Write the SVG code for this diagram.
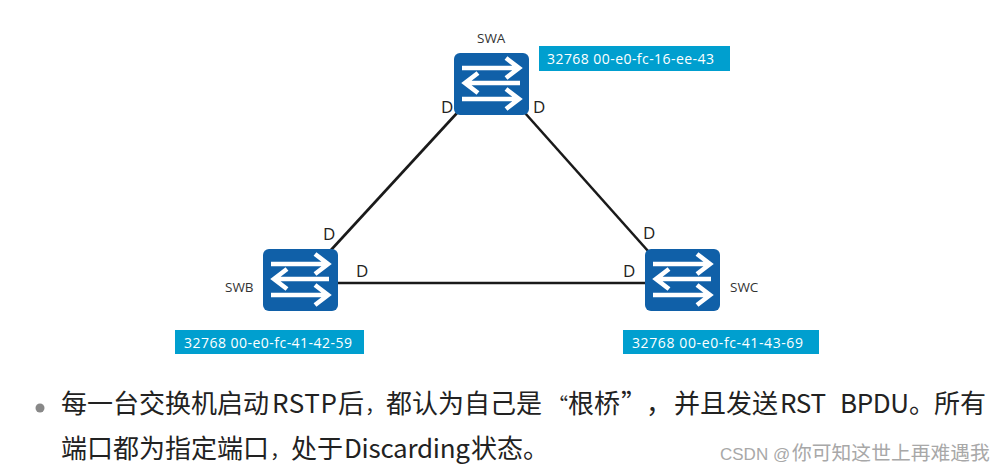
<svg xmlns="http://www.w3.org/2000/svg" width="1006" height="472" viewBox="0 0 1006 472">
<style>
.lbl{font-family:"Open Sans","Liberation Sans",sans-serif;font-size:13.5px;fill:#333}
.d{font-family:"Open Sans","Liberation Sans",sans-serif;font-size:17px;fill:#222}
.tag{fill:#009fcf}
.tagt{font-family:"Open Sans","Liberation Sans",sans-serif;font-size:14px;fill:#fff}
.body{font-family:"Noto Sans CJK SC","Noto Sans",sans-serif;font-size:26px;fill:#222}
.sm{font-size:20px}
.ar{fill:none;stroke:#fff;stroke-width:4.6}
.ln{stroke:#1a1a1a;stroke-width:2.6;fill:none}
</style>
<defs>
<g id="sw">
<rect width="75" height="62" rx="6" fill="#1060a8"/>
<path class="ar" d="M8 15H64M52 5L65 15L52 25"/>
<path class="ar" d="M66 30H12M24 20L11 30L24 40"/>
<path class="ar" d="M8 46H64M52 36L65 46L52 56"/>
</g>
</defs>
<rect width="1006" height="472" fill="#fff"/>
<g id="connectors">
<line class="ln" x1="457" y1="113" x2="331" y2="250"/>
<line class="ln" x1="525" y1="113" x2="648" y2="251"/>
<line class="ln" x1="337" y1="283" x2="645" y2="283"/>
</g>
<g id="SWA"><use href="#sw" x="454" y="53"/><text class="lbl" x="477" y="43">SWA</text>
<rect class="tag" x="539" y="46" width="191" height="25"/><text class="tagt" x="547" y="64" textLength="167">32768 00-e0-fc-16-ee-43</text>
<text class="d" x="441" y="113">D</text><text class="d" x="533" y="113">D</text></g>
<g id="SWB"><use href="#sw" x="263" y="249"/><text class="lbl" x="225" y="292">SWB</text>
<rect class="tag" x="175" y="330" width="189" height="24"/><text class="tagt" x="184" y="348" textLength="168">32768 00-e0-fc-41-42-59</text>
<text class="d" x="323" y="240">D</text><text class="d" x="356" y="277">D</text></g>
<g id="SWC"><use href="#sw" x="645" y="249"/><text class="lbl" x="730" y="292">SWC</text>
<rect class="tag" x="623" y="330" width="196" height="24"/><text class="tagt" x="632" y="348" textLength="171">32768 00-e0-fc-41-43-69</text>
<text class="d" x="643" y="239">D</text><text class="d" x="623" y="277">D</text></g>
<circle cx="40" cy="408" r="4.5" fill="#888"/>
<text class="body" y="413"><tspan x="61">每一台交换机启动</tspan><tspan x="272" textLength="65">RSTP</tspan><tspan x="338">后</tspan><tspan x="365" class="sm">，</tspan><tspan x="386">都认为自己是</tspan><tspan x="548" class="sm">“</tspan><tspan x="568">根桥</tspan><tspan x="621">”</tspan><tspan x="646">，</tspan><tspan x="674">并且发送</tspan><tspan x="780" textLength="46">RST</tspan><tspan x="840" textLength="69">BPDU</tspan><tspan x="909">。</tspan><tspan x="934">所有</tspan></text>
<text class="body" y="458"><tspan x="61">端口都为指定端口</tspan><tspan x="270" class="sm">，</tspan><tspan x="291">处于</tspan><tspan x="344" textLength="126">Discarding</tspan><tspan x="471">状态</tspan><tspan x="523">。</tspan></text>
<text x="720" y="460" font-family="'Liberation Sans',sans-serif" font-size="17" fill="#a8a8a8">CSDN @</text>
<text x="792" y="460" font-family="'Noto Sans CJK SC',sans-serif" font-size="19.8" fill="#a8a8a8">你可知这世上再难遇我</text>
</svg>
